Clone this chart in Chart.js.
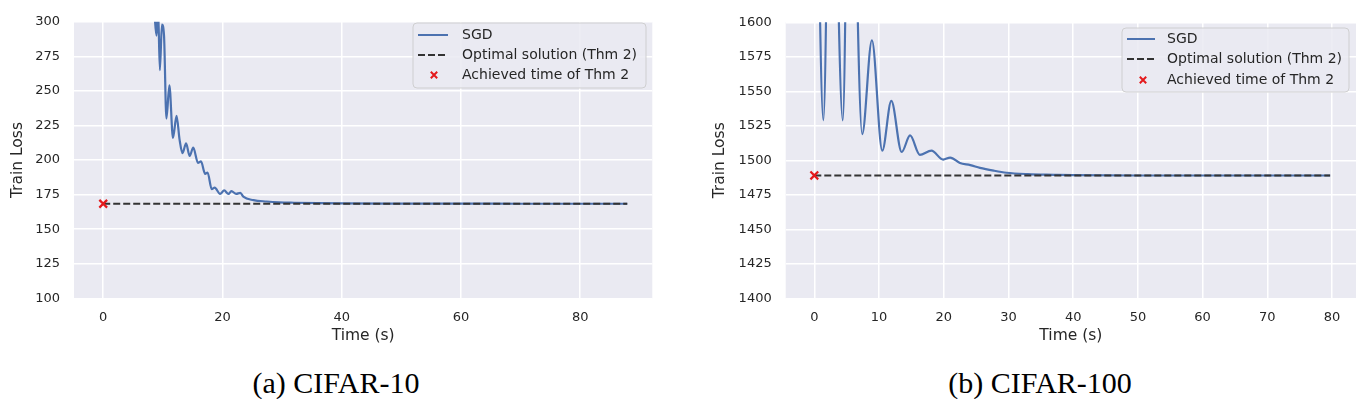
<!DOCTYPE html>
<html>
<head>
<meta charset="utf-8">
<script src="https://cdn.jsdelivr.net/npm/chart.js@4"></script>
<style>
  body { margin: 0; background: #fff; width: 1370px; height: 399px; position: relative; overflow: hidden; }
  canvas { position: absolute; top: 0; }
  #c10 { left: 0; }
  #c100 { left: 700px; }
  .caption { position: absolute; top: 366px; height: 34px; line-height: 34px; text-align: center;
             font-family: 'Liberation Serif', 'Times New Roman', serif; font-size: 30px; color: #000; }
</style>
</head>
<body>
<canvas id="c10" width="680" height="350"></canvas>
<canvas id="c100" width="670" height="350"></canvas>
<div class="caption" style="left:0;width:672px;">(a) CIFAR-10</div>
<div class="caption" style="left:700px;width:680px;">(b) CIFAR-100</div>
<script>
// CIFAR-10 run
const c10Time = [8.3, 8.7, 8.95, 9.2, 9.5, 9.85, 10.2, 10.6, 11.1, 11.7, 12.3, 12.8, 13.3, 13.9, 14.5, 15.1,
  15.9, 16.4, 17.1, 17.5, 18.2, 18.7, 19.6, 20.3, 21.0, 21.5, 22.3, 23.0, 23.5, 25.2, 27.4, 29.5, 32, 36,
  40, 50, 60, 70, 80, 87.9];
const c10Loss = [340, 300, 290, 310, 265, 298, 290, 230, 254, 216, 232, 215, 205, 212, 203, 209,
  198, 199, 190, 191, 179, 180, 175.5, 178, 175.5, 177.5, 175.5, 176.3, 173.5, 171, 170, 169.4, 169.1, 168.8,
  168.6, 168.5, 168.5, 168.4, 168.4, 168.4];
const c10Optimal = 168.4;
const c10OptimalSpan = [0, 87.9];
const c10XTicks = [0, 20, 40, 60, 80];
const c10YTicks = [100, 125, 150, 175, 200, 225, 250, 275, 300];

// CIFAR-100 run
const c100Time = [0.3, 1.4, 2.6, 4.4, 5.5, 7.4, 8.9, 10.5, 11.9, 13.5, 14.8, 16.3, 18.1, 19.9, 21.0, 22.5,
  24.1, 25.6, 27.7, 29.7, 33, 37, 40, 50, 60, 70, 79.7];
const c100Loss = [1750, 1529, 1800, 1529, 1800, 1519, 1587, 1507, 1543, 1506, 1518, 1504, 1507, 1500.5, 1502, 1498,
  1496.5, 1494.5, 1492.5, 1491, 1490, 1489.5, 1489.2, 1489, 1489, 1489, 1489];
const c100Optimal = 1489;
const c100OptimalSpan = [0, 79.7];
const c100XTicks = [0, 10, 20, 30, 40, 50, 60, 70, 80];
const c100YTicks = [1400, 1425, 1450, 1475, 1500, 1525, 1550, 1575, 1600];

const legendLabels = ['SGD', 'Optimal solution (Thm 2)', 'Achieved time of Thm 2'];

const TEXT = '#262626';
const BLUE = '#4C72B0';
const FONT = "'DejaVu Sans', sans-serif";

const plotBackground = {
  id: 'plotBackground',
  beforeDraw(chart) {
    const { ctx, chartArea: a } = chart;
    ctx.save();
    ctx.fillStyle = '#EAEAF2';
    ctx.fillRect(a.left, a.top, a.right - a.left, a.bottom - a.top);
    ctx.restore();
  }
};

// matplotlib-like legend box drawn inside the axes
const boxLegend = {
  id: 'boxLegend',
  afterDraw(chart, args, opts) {
    const ctx = chart.ctx;
    const { x, y, w, h, rows, sample, marker, text } = opts;
    ctx.save();
    ctx.beginPath();
    ctx.roundRect(x, y, w, h, 4);
    ctx.fillStyle = 'rgba(234,234,242,0.85)';
    ctx.fill();
    ctx.strokeStyle = 'rgba(204,204,204,0.9)';
    ctx.lineWidth = 1;
    ctx.stroke();

    // SGD sample
    ctx.strokeStyle = BLUE;
    ctx.lineWidth = 2;
    ctx.beginPath();
    ctx.moveTo(sample[0], rows[0]);
    ctx.lineTo(sample[1], rows[0]);
    ctx.stroke();
    // optimal sample
    ctx.strokeStyle = '#333';
    ctx.setLineDash([7, 3]);
    ctx.beginPath();
    ctx.moveTo(sample[0], rows[1]);
    ctx.lineTo(sample[1], rows[1]);
    ctx.stroke();
    ctx.setLineDash([]);
    // marker sample
    ctx.strokeStyle = '#e41a1c';
    ctx.lineWidth = 2;
    const r = 3.2;
    ctx.beginPath();
    ctx.moveTo(marker - r, rows[2] - r);
    ctx.lineTo(marker + r, rows[2] + r);
    ctx.moveTo(marker - r, rows[2] + r);
    ctx.lineTo(marker + r, rows[2] - r);
    ctx.stroke();

    ctx.fillStyle = TEXT;
    ctx.font = '14px ' + FONT;
    ctx.textBaseline = 'middle';
    ctx.textAlign = 'left';
    legendLabels.forEach((label, i) => ctx.fillText(label, text, rows[i]));
    ctx.restore();
  }
};

function makeChart(id, cfg) {
  const points = cfg.time.map((t, i) => ({ x: t, y: cfg.loss[i] }));
  const optimal = cfg.span.map(t => ({ x: t, y: cfg.optimal }));
  return new Chart(document.getElementById(id), {
    type: 'line',
    data: {
      datasets: [
        {
          label: legendLabels[0],
          data: points,
          borderColor: BLUE,
          borderWidth: 2.2,
          pointRadius: 0,
          cubicInterpolationMode: 'monotone',
          clip: 0,
          order: 2
        },
        {
          label: legendLabels[1],
          data: optimal,
          borderColor: '#333',
          borderWidth: 2,
          borderDash: [7, 3],
          pointRadius: 0,
          order: 1
        },
        {
          label: legendLabels[2],
          data: [{ x: 0, y: cfg.optimal }],
          showLine: false,
          pointStyle: 'crossRot',
          pointRadius: 5.5,
          pointBorderWidth: 2.2,
          pointBorderColor: '#e41a1c',
          clip: false,
          order: 0
        }
      ]
    },
    options: {
      responsive: false,
      animation: false,
      devicePixelRatio: 1,
      layout: { padding: cfg.padding },
      plugins: {
        legend: { display: false },
        tooltip: { enabled: false },
        boxLegend: cfg.legend
      },
      scales: {
        x: {
          type: 'linear',
          min: cfg.xMin,
          max: cfg.xMax,
          afterBuildTicks: s => { s.ticks = cfg.xTicks.map(v => ({ value: v })); },
          afterFit: s => { s.height = 51.7; },
          grid: { color: '#ffffff', lineWidth: 1.5, drawTicks: false },
          border: { display: false },
          ticks: { color: TEXT, font: { family: FONT, size: 13 }, padding: 12, maxRotation: 0,
                   callback: v => String(v) },
          title: { display: true, text: 'Time (s)', color: TEXT, font: { family: FONT, size: 15.5 },
                   padding: { top: 0, bottom: 4.7 } }
        },
        y: {
          min: cfg.yTicks[0],
          max: cfg.yTicks[cfg.yTicks.length - 1],
          afterBuildTicks: s => { s.ticks = cfg.yTicks.map(v => ({ value: v })); },
          afterFit: s => { s.width = cfg.yWidth; },
          grid: { color: '#ffffff', lineWidth: 1.5, drawTicks: false },
          border: { display: false },
          ticks: { color: TEXT, font: { family: FONT, size: 13 }, padding: 14,
                   callback: v => String(v) },
          title: { display: true, text: 'Train Loss', color: TEXT, font: { family: FONT, size: 15.5 },
                   padding: { top: cfg.yTitlePad, bottom: 0 } }
        }
      }
    },
    plugins: [plotBackground, boxLegend]
  });
}

makeChart('c10', {
  time: c10Time, loss: c10Loss, optimal: c10Optimal, span: c10OptimalSpan,
  xTicks: c10XTicks, yTicks: c10YTicks,
  xMin: -4.9, xMax: 92.1, yWidth: 74, yTitlePad: 8.7,
  padding: { left: 0, top: 16.7, right: 27.7, bottom: 0 },
  legend: { x: 413, y: 23, w: 233, h: 65, rows: [35, 55, 75], sample: [418, 448], marker: 434, text: 462 }
});

makeChart('c100', {
  time: c100Time, loss: c100Loss, optimal: c100Optimal, span: c100OptimalSpan,
  xTicks: c100XTicks, yTicks: c100YTicks,
  xMin: -4.42, xMax: 83.7, yWidth: 85.7, yTitlePad: 10.7,
  padding: { left: 0, top: 22.3, right: 14, bottom: 0 },
  legend: { x: 422, y: 28, w: 227, h: 64, rows: [39, 59, 80], sample: [427, 455], marker: 443, text: 467 }
});
</script>
</body>
</html>
